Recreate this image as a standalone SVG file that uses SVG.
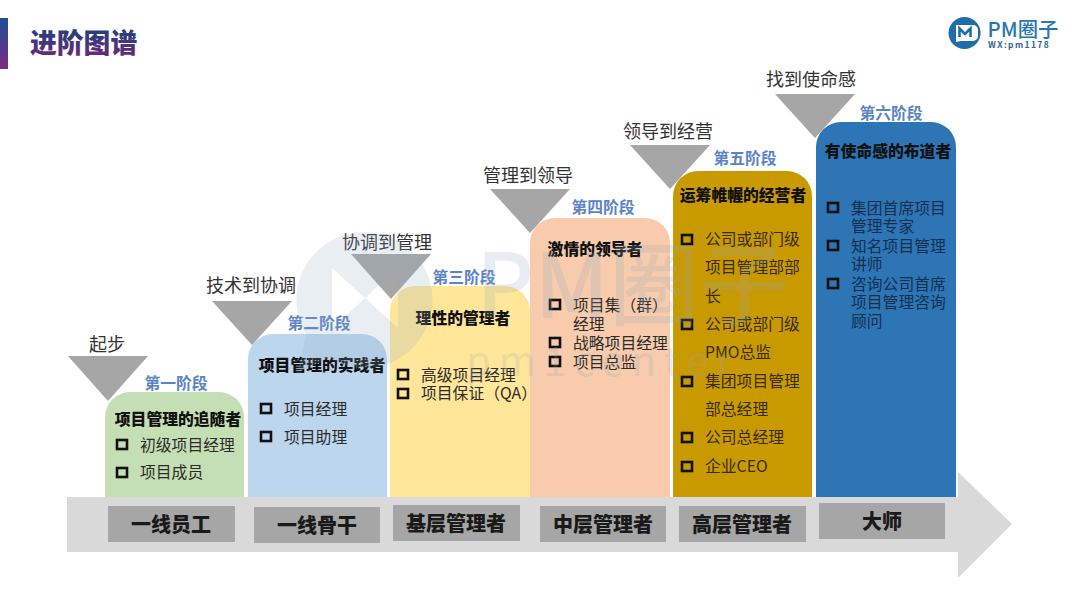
<svg xmlns="http://www.w3.org/2000/svg" width="1080" height="608" viewBox="0 0 1080 608">
<style>
text{font-family:"Noto Sans CJK SC","Noto Sans",sans-serif;fill:#222}
.it{font-size:15.8px;fill:#2b2b2b}
.d5{fill:#3a2a00}
.d6{fill:#12304f}
.t{font-size:15.8px;font-weight:900;fill:#111;text-anchor:middle}
.s{font-size:15.8px;font-weight:700;fill:#5b84c8;text-anchor:middle}
.u{font-size:18px;fill:#333;text-anchor:middle}
.b{font-size:20px;font-weight:900;fill:#1a1a1a;text-anchor:middle}
.bx{fill:#a6a6a6}
.tri{fill:#a6a6a6}
.ck{fill:none;stroke:#111;stroke-width:2.6}
.wm{fill:#8fa9c4;opacity:.2}
</style>
<defs>
<linearGradient id="g" x1="0" y1="0" x2="0" y2="1"><stop offset="0" stop-color="#1d4f96"/><stop offset="1" stop-color="#7a2a7c"/></linearGradient>
<linearGradient id="gt" gradientUnits="userSpaceOnUse" x1="0" y1="30" x2="0" y2="56"><stop offset="0" stop-color="#23407f"/><stop offset="1" stop-color="#6a2a78"/></linearGradient>
</defs>
<rect width="1080" height="608" fill="#fff"/>
<g id="header">
<rect x="0" y="18" width="8" height="51" fill="url(#g)"/>
<text x="30" y="53" style="font-size:26.8px;font-weight:900;fill:url(#gt)">进阶图谱</text>
</g>
<g id="logo">
<circle cx="964.500" cy="33" r="16" fill="#1f6ea8"/>
<path d="M956 42V25h17a5 5 0 0 1 5 5v6a5 5 0 0 1-5 5h-12z" fill="#fff"/>
<path d="M959.500 37V28.500L965 34l5.500-5.500V37" fill="none" stroke="#1f6ea8" stroke-width="2.600"/>
<text x="987.500" y="37" style="font-size:20.400px;fill:#2a77ad;font-weight:500">PM圈子</text>
<text x="988" y="48" style="font-size:8.500px;fill:#33648c;font-weight:700;letter-spacing:1.400px">WX:pm1178</text>
</g>
<g id="arrow"><path d="M67 497H958V472L1012 524L958 578V552H67Z" fill="#d9d9d9"/></g>
<g id="stage1">
<path d="M105 497V417a25 25 0 0 1 25-25h89a25 25 0 0 1 25 25v80z" fill="#c5dfb4"/>
<path class="tri" d="M68 356H148L108 401Z"/>
<text class="u" x="107" y="351">起步</text>
<text class="s" x="176" y="389">第一阶段</text>
<text class="t" x="178" y="425">项目管理的追随者</text>
<rect class="ck" x="117" y="440" width="10" height="9"/><text class="it" x="140" y="451">初级项目经理</text>
<rect class="ck" x="117" y="468" width="10" height="9"/><text class="it" x="140" y="478">项目成员</text>
<rect class="bx" x="108" y="506" width="127" height="36"/><text class="b" x="171" y="532">一线员工</text>
</g>
<g id="stage2">
<path d="M248 497V359a25 25 0 0 1 25-25h89a25 25 0 0 1 25 25v138z" fill="#bcd6ee"/>
<path class="tri" d="M212 301H292L252 345Z"/>
<text class="u" x="251" y="292">技术到协调</text>
<text class="s" x="319" y="329">第二阶段</text>
<text class="t" x="322" y="371">项目管理的实践者</text>
<rect class="ck" x="261" y="404" width="10" height="9"/><text class="it" x="284" y="415">项目经理</text>
<rect class="ck" x="261" y="432" width="10" height="9"/><text class="it" x="284" y="443">项目助理</text>
<rect class="bx" x="254" y="507" width="126" height="36"/><text class="b" x="317" y="533">一线骨干</text>
</g>
<g id="stage3">
<path d="M390 497V311a25 25 0 0 1 25-25h90a25 25 0 0 1 25 25v186z" fill="#ffe699"/>
<path class="tri" d="M351 254H431L391 299Z"/>
<text class="u" x="387" y="249">协调到管理</text>
<text class="s" x="464" y="283">第三阶段</text>
<text class="t" x="463" y="324">理性的管理者</text>
<rect class="ck" x="398" y="370" width="10" height="9"/><text class="it" x="421" y="381">高级项目经理</text>
<rect class="ck" x="398" y="389" width="10" height="9"/><text class="it" x="421" y="399">项目保证（QA）</text>
<rect class="bx" x="393" y="505" width="127" height="36"/><text class="b" x="456" y="531">基层管理者</text>
</g>
<g id="stage4">
<path d="M530 497V243a25 25 0 0 1 25-25h90a25 25 0 0 1 25 25v254z" fill="#f7cbac"/>
<path class="tri" d="M490 189H570L530 233Z"/>
<text class="u" x="528" y="182">管理到领导</text>
<text class="s" x="603" y="213">第四阶段</text>
<text class="t" x="595" y="255">激情的领导者</text>
<rect class="ck" x="550" y="300" width="10" height="9"/><text class="it" x="573" y="311">项目集（群）</text><text class="it" x="573" y="330">经理</text>
<rect class="ck" x="550" y="338" width="10" height="9"/><text class="it" x="573" y="349">战略项目经理</text>
<rect class="ck" x="550" y="357" width="10" height="9"/><text class="it" x="573" y="368">项目总监</text>
<rect class="bx" x="540" y="506" width="126" height="36"/><text class="b" x="603" y="532">中层管理者</text>
</g>
<g id="stage5">
<path d="M673 497V196a25 25 0 0 1 25-25h89a25 25 0 0 1 25 25v301z" fill="#c99a00"/>
<path class="tri" d="M630 145H710L670 189Z"/>
<text class="u" x="668" y="138">领导到经营</text>
<text class="s" x="745" y="164">第五阶段</text>
<text class="t" x="743" y="201">运筹帷幄的经营者</text>
<rect class="ck" x="682" y="235" width="10" height="9"/><text class="it d5" x="705" y="245">公司或部门级</text><text class="it d5" x="705" y="273">项目管理部部</text><text class="it d5" x="705" y="302">长</text>
<rect class="ck" x="682" y="320" width="10" height="9"/><text class="it d5" x="705" y="330">公司或部门级</text><text class="it d5" x="705" y="358">PMO总监</text>
<rect class="ck" x="682" y="377" width="10" height="9"/><text class="it d5" x="705" y="387">集团项目管理</text><text class="it d5" x="705" y="415">部总经理</text>
<rect class="ck" x="682" y="433" width="10" height="9"/><text class="it d5" x="705" y="443">公司总经理</text>
<rect class="ck" x="682" y="462" width="10" height="9"/><text class="it d5" x="705" y="472">企业CEO</text>
<rect class="bx" x="679" y="506" width="127" height="36"/><text class="b" x="742" y="532">高层管理者</text>
</g>
<g id="stage6">
<path d="M816 497V147a25 25 0 0 1 25-25h90a25 25 0 0 1 25 25v350z" fill="#2e75b6"/>
<path class="tri" d="M775 94H855L815 138Z"/>
<text class="u" x="811" y="86">找到使命感</text>
<text class="s" x="891" y="119">第六阶段</text>
<text class="t" x="888" y="157">有使命感的布道者</text>
<rect class="ck" x="828" y="203" width="10" height="9"/><text class="it d6" x="851" y="214">集团首席项目</text><text class="it d6" x="851" y="232">管理专家</text>
<rect class="ck" x="828" y="241" width="10" height="9"/><text class="it d6" x="851" y="252">知名项目管理</text><text class="it d6" x="851" y="270">讲师</text>
<rect class="ck" x="828" y="279" width="10" height="9"/><text class="it d6" x="851" y="290">咨询公司首席</text><text class="it d6" x="851" y="308">项目管理咨询</text><text class="it d6" x="851" y="327">顾问</text>
<rect class="bx" x="819" y="503" width="126" height="36"/><text class="b" x="882" y="529">大师</text>
</g>
<g id="watermark">
<path class="wm" fill-rule="evenodd" d="M365 232a68 68 0 1 1-36 126l-31 14 8-37a68 68 0 0 1 59-103zM332 268v60l33-30 33 30v-60l-33 30z"/>
<text x="476" y="318" style="font-size:90px;font-weight:500;fill:#8fa9c4;opacity:.2">PM圈子</text>
<text x="466" y="376" style="font-size:40px;fill:#8fa9c4;opacity:.2;letter-spacing:8px">pm1center</text>
</g>
</svg>
